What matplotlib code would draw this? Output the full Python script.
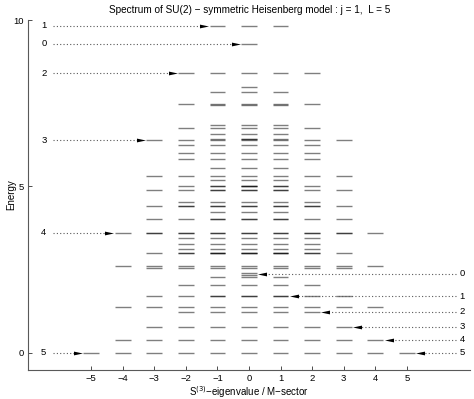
import matplotlib
matplotlib.use("Agg")
import matplotlib.pyplot as plt
import numpy as np

plt.rcParams['font.family'] = ['Liberation Sans', 'DejaVu Sans']

# Energies of the SU(2) multiplets, grouped by total spin S
mult_S5 = [0.0]
mult_S4 = [0.39, 1.38, 2.62, 3.61]
mult_S3 = [0.79, 1.70, 2.55, 3.00, 3.61, 4.01, 4.41, 4.89, 5.30, 6.39]
mult_S2 = [1.24, 2.04, 3.00, 3.12, 3.27, 3.46, 4.40, 4.53, 5.01, 5.83, 6.00,
           6.24, 6.75, 7.48, 8.40]
mult_S1 = [1.70, 2.27, 3.00, 4.01, 4.23, 4.89, 5.01, 5.19, 5.55, 6.42, 6.59,
           6.84, 7.45, 7.83, 9.82]
mult_S0 = [2.35, 2.41, 5.01, 6.42, 8.00, 9.29]

multiplets = {5: mult_S5, 4: mult_S4, 3: mult_S3, 2: mult_S2, 1: mult_S1, 0: mult_S0}

x_ticks = [-5, -4, -3, -2, -1, 0, 1, 2, 3, 4, 5]
y_ticks = [0, 5, 10]

fig = plt.figure(figsize=(4.74, 3.99), dpi=100)
ax = fig.add_axes([28/474, 1-369.5/399, (470-28)/474, (369.5-20)/399])

half = 0.25
for S, energies in multiplets.items():
    for M in range(-S, S+1):
        ax.hlines(energies, M-half, M+half, colors='k', alpha=0.5, lw=1.0)

tri_r = [(-1, -0.42), (1, 0), (-1, 0.42), (-1, -0.42)]
tri_l = [(1, -0.42), (-1, 0), (1, 0.42), (1, -0.42)]

# left annotations: highest multiplet of each S, pointing to sector M=-S
for S in [1, 0, 2, 3, 4, 5]:
    E = max(multiplets[S])
    tip = -S - 0.3
    ax.plot([-6.2, tip - 0.15], [E, E], ls=(0, (1, 2)), color='0.35', lw=0.8)
    ax.plot(tip - 0.12, E, marker=tri_r, ms=6.5, color='k', mew=0)
    ax.text(-6.5, E, str(S), ha='center', va='center', fontsize=6.8)

# right annotations: lowest multiplet of each S, pointing to sector M=S
for S in [0, 1, 2, 3, 4, 5]:
    E = min(multiplets[S])
    if S == 0:
        E = np.mean(sorted(multiplets[S])[:2])
    tip = S + 0.3
    ax.plot([6.55, tip + 0.15], [E, E], ls=(0, (1, 2)), color='0.35', lw=0.8)
    ax.plot(tip + 0.12, E, marker=tri_l, ms=6.5, color='k', mew=0)
    ax.text(6.75, E, str(S), ha='center', va='center', fontsize=6.8)

ax.set_xlim(-7, 7)
ax.set_ylim(-0.5, 10)
ax.set_xticks(x_ticks)
ax.set_yticks(y_ticks)
ax.tick_params(direction='in', length=3, width=0.7, colors='0.3', labelcolor='k',
               labelsize=6.8, pad=3)
for s in ['top', 'right']:
    ax.spines[s].set_visible(False)
for s in ['left', 'bottom']:
    ax.spines[s].set_color('0.35')
    ax.spines[s].set_linewidth(0.8)

fig.text(249/474, 1-392/399, 'S$^{(3)}$\u2212eigenvalue / M\u2212sector',
         fontsize=7, ha='center', va='center')
fig.text(11/474, 1-195/399, 'Energy', fontsize=7, rotation=90,
         ha='center', va='center')
fig.text(250/474, 1-10/399,
         'Spectrum of SU(2) \u2212 symmetric Heisenberg model : j = 1,  L = 5',
         fontsize=7.2, ha='center', va='center')

fig.savefig('out.png', dpi=100)
